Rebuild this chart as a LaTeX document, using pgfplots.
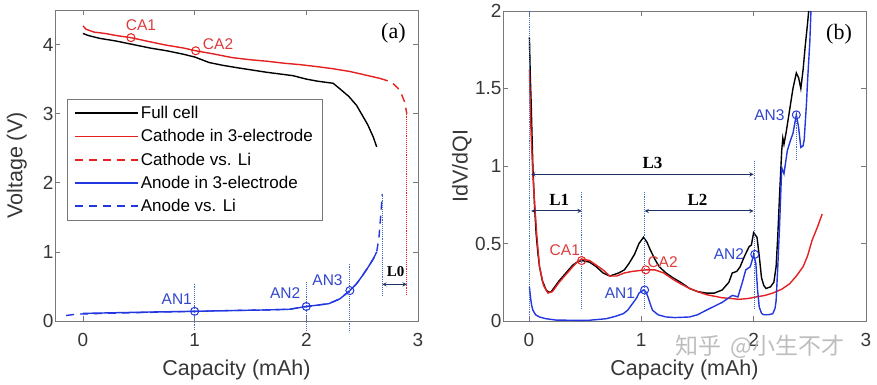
\documentclass[border=0pt]{standalone}
\usepackage{pgfplots}
\pgfplotsset{compat=1.18}
\usepackage{fontspec}
\setmainfont{Liberation Sans}
\newfontfamily\serif{Liberation Serif}
\newfontfamily\cjk{Noto Sans CJK SC}
\definecolor{mred}{RGB}{228,32,32}
\definecolor{mblue}{RGB}{35,55,225}
\definecolor{tred}{RGB}{220,60,60}
\definecolor{tblue}{RGB}{50,70,205}
\definecolor{dblue}{RGB}{70,110,190}
\definecolor{navy}{RGB}{30,50,100}
\definecolor{axgray}{RGB}{120,120,120}
\definecolor{txtgray}{RGB}{55,55,55}
\pgfplotsset{
  mystyle/.style={
    scale only axis, clip=false,
    axis line style={axgray, line width=0.8pt},
    tick style={axgray, line width=0.6pt},
    major tick length=5pt,
    tick align=inside, tick pos=both,
    /pgf/number format/assume math mode=true,
    ticklabel style={font=\fontsize{19}{22}\selectfont, text=txtgray},
    xticklabel style={yshift=-9pt},
    yticklabel style={xshift=2pt},
    label style={font=\fontsize{21.5}{25}\selectfont, text=txtgray},
    xlabel style={at={(axis description cs:0.5,-0.158)}, anchor=center},
  }
}
\begin{document}
\begin{tikzpicture}
\path[use as bounding box] (0,0) rectangle (877pt,385pt);
% ---------------- (a)
\begin{axis}[mystyle,
  at={(55pt,64pt)}, anchor=south west,
  width=363pt, height=311pt,
  xmin=-0.25, xmax=3, ymin=0, ymax=4.5,
  xtick={0,1,2,3}, ytick={0,1,2,3,4},
  xlabel={Capacity (mAh)}, ylabel={Voltage (V)},
  ylabel style={at={(axis description cs:-0.105,0.5)}, anchor=center},
  legend cell align=left,
  legend style={at={(0.033,0.714)}, anchor=north west, draw=axgray,
    font=\fontsize{17}{20}\selectfont, row sep=5.5pt, inner xsep=7pt, inner ysep=5pt},
  legend image code/.code={\draw[#1, line width=1.7pt] (0pt,0pt) -- (63pt,0pt);},
]
\addplot[black, line width=1.4pt] coordinates {
(0,4.16) (0.05,4.13) (0.15,4.09) (0.3,4.05) (0.45,4.0) (0.6,3.95) (0.75,3.91) (0.9,3.86) (1.0,3.82) (1.13,3.74) (1.25,3.70) (1.4,3.66) (1.64,3.60) (1.88,3.55) (2.0,3.50) (2.1,3.47) (2.24,3.44) (2.3,3.36) (2.38,3.25) (2.45,3.12) (2.5,2.98) (2.55,2.84) (2.6,2.66) (2.63,2.52)};
\addlegendentry{Full cell}
\addplot[mred, line width=1.4pt] coordinates {
(0,4.27) (0.03,4.22) (0.1,4.18) (0.2,4.16) (0.3,4.13) (0.43,4.10) (0.6,4.04) (0.75,3.99) (0.9,3.95) (1.01,3.91) (1.15,3.87) (1.34,3.81) (1.5,3.78) (1.64,3.76) (1.8,3.73) (1.94,3.71) (2.1,3.68) (2.24,3.65) (2.39,3.61) (2.5,3.57) (2.58,3.54) (2.66,3.51)};
\addlegendentry{Cathode in 3-electrode}
\addplot[mred, line width=1.4pt, dash pattern=on 8pt off 6pt] coordinates {
(2.66,3.51) (2.72,3.48) (2.78,3.43) (2.82,3.37) (2.85,3.29) (2.88,3.17) (2.9,3.0)};
\addlegendentry{Cathode vs. Li}
\addplot[mblue, line width=1.4pt] coordinates {
(0,0.11) (0.3,0.12) (0.6,0.13) (1.0,0.14) (1.3,0.15) (1.64,0.16) (1.85,0.17) (2.0,0.21) (2.1,0.23) (2.2,0.25) (2.3,0.32) (2.39,0.44) (2.45,0.54) (2.5,0.65) (2.55,0.77) (2.6,0.9) (2.63,1.0)};
\addlegendentry{Anode in 3-electrode}
\addplot[mblue, line width=1.4pt, dash pattern=on 8pt off 6pt] coordinates {
(-0.15,0.08) (-0.05,0.10) (0.3,0.115) (0.6,0.125) (1.0,0.14) (1.3,0.15) (1.64,0.16) (1.85,0.17) (2.0,0.21) (2.1,0.23) (2.2,0.25) (2.3,0.32) (2.39,0.44) (2.45,0.54) (2.5,0.65) (2.55,0.77) (2.6,0.9) (2.63,1.0) (2.65,1.2) (2.66,1.4) (2.67,1.6) (2.68,1.84)};
\addlegendentry{Anode vs. Li}
% dotted guide lines
\addplot[forget plot, mred, densely dotted, line width=0.9pt] coordinates {(2.9,3.0) (2.9,0.37)};
\addplot[forget plot, dblue, densely dotted, line width=0.9pt] coordinates {(2.68,1.84) (2.68,0.37)};
\addplot[forget plot, dblue, densely dotted, line width=0.9pt] coordinates {(1.0,0.54) (1.0,-0.13)};
\addplot[forget plot, dblue, densely dotted, line width=0.9pt] coordinates {(2.0,0.56) (2.0,-0.13)};
\addplot[forget plot, dblue, densely dotted, line width=0.9pt] coordinates {(2.39,0.83) (2.39,-0.16)};
\addplot[forget plot, navy, line width=0.9pt, <->, >=stealth] coordinates {(2.68,0.53) (2.9,0.53)};
% markers
\addplot[forget plot, only marks, mark=o, mark size=4pt, mark options={mred, line width=1pt}] coordinates {(0.43,4.10) (1.01,3.91)};
\addplot[forget plot, only marks, mark=o, mark size=4pt, mark options={mblue, line width=1pt}] coordinates {(1.0,0.14) (2.0,0.21) (2.39,0.44)};
% labels
\node[text=tred, font=\fontsize{15.5}{18}\selectfont] at (axis cs:0.52,4.28) {CA1};
\node[text=tred, font=\fontsize{15.5}{18}\selectfont] at (axis cs:1.21,4.01) {CA2};
\node[text=tblue, font=\fontsize{15.5}{18}\selectfont] at (axis cs:0.84,0.31) {AN1};
\node[text=tblue, font=\fontsize{15.5}{18}\selectfont] at (axis cs:1.81,0.40) {AN2};
\node[text=tblue, font=\fontsize{15.5}{18}\selectfont] at (axis cs:2.19,0.59) {AN3};
\node[font=\serif\bfseries\fontsize{15}{18}\selectfont] at (axis cs:2.80,0.72) {L0};
\node[font=\serif\fontsize{22}{24}\selectfont] at (axis cs:2.78,4.16) {(a)};
\end{axis}
% ---------------- (b)
\begin{axis}[mystyle,
  at={(503pt,64pt)}, anchor=south west,
  width=363pt, height=310pt,
  xmin=-0.23, xmax=3, ymin=0, ymax=2,
  xtick={0,1,2,3}, ytick={0,0.5,1,1.5,2},
  yticklabels={0,0.5,1,1.5,2},
  xlabel={Capacity (mAh)}, ylabel={IdV/dQI},
  ylabel style={at={(axis description cs:-0.113,0.5)}, anchor=center},
]
\addplot[black, line width=1.4pt] coordinates {
(0.005,1.83) (0.012,1.6) (0.02,1.42) (0.03,1.15) (0.036,0.99) (0.05,0.75) (0.065,0.56) (0.08,0.44) (0.095,0.35) (0.12,0.26) (0.154,0.20) (0.18,0.185) (0.2,0.19) (0.23,0.22) (0.27,0.26) (0.33,0.31) (0.39,0.36) (0.43,0.38) (0.47,0.39) (0.54,0.38) (0.6,0.35) (0.66,0.31) (0.72,0.29) (0.8,0.31) (0.85,0.33) (0.89,0.37) (0.94,0.43) (0.98,0.50) (1.02,0.54) (1.05,0.51) (1.08,0.46) (1.12,0.40) (1.16,0.35) (1.22,0.31) (1.28,0.28) (1.35,0.25) (1.43,0.21) (1.5,0.19) (1.58,0.18) (1.65,0.18) (1.72,0.20) (1.78,0.25) (1.81,0.31) (1.85,0.32) (1.88,0.35) (1.92,0.42) (1.96,0.48) (1.98,0.49) (2.0,0.57) (2.03,0.54) (2.05,0.42) (2.07,0.28) (2.09,0.23) (2.11,0.21) (2.15,0.22) (2.18,0.25) (2.2,0.35) (2.215,0.55) (2.23,0.80) (2.25,1.10) (2.26,1.18) (2.27,1.14) (2.29,1.22) (2.32,1.36) (2.35,1.50) (2.38,1.60) (2.40,1.57) (2.42,1.50) (2.44,1.62) (2.46,1.78) (2.48,1.92) (2.49,2.0)};
\addplot[mred, line width=1.4pt] coordinates {
(0.005,1.62) (0.012,1.4) (0.02,1.21) (0.035,0.95) (0.05,0.78) (0.07,0.56) (0.095,0.35) (0.13,0.23) (0.17,0.18) (0.21,0.19) (0.24,0.22) (0.27,0.25) (0.33,0.30) (0.39,0.35) (0.43,0.38) (0.47,0.40) (0.54,0.39) (0.6,0.36) (0.66,0.33) (0.72,0.29) (0.78,0.29) (0.85,0.31) (0.92,0.32) (1.04,0.33) (1.12,0.33) (1.2,0.31) (1.28,0.27) (1.35,0.24) (1.43,0.21) (1.5,0.19) (1.58,0.17) (1.65,0.16) (1.72,0.15) (1.8,0.145) (1.87,0.14) (1.95,0.145) (2.02,0.155) (2.1,0.165) (2.17,0.18) (2.25,0.205) (2.32,0.24) (2.38,0.29) (2.44,0.35) (2.48,0.42) (2.52,0.52) (2.57,0.61) (2.61,0.69)};
\addplot[mblue, line width=1.4pt] coordinates {
(0.005,0.22) (0.015,0.15) (0.025,0.10) (0.036,0.07) (0.06,0.04) (0.095,0.026) (0.15,0.015) (0.24,0.006) (0.35,0.005) (0.45,0.004) (0.54,0.005) (0.62,0.01) (0.69,0.015) (0.77,0.03) (0.84,0.047) (0.88,0.07) (0.92,0.11) (0.96,0.15) (0.98,0.18) (1.02,0.20) (1.04,0.19) (1.06,0.155) (1.08,0.11) (1.1,0.07) (1.15,0.04) (1.22,0.026) (1.3,0.022) (1.43,0.026) (1.5,0.04) (1.58,0.07) (1.65,0.095) (1.72,0.12) (1.78,0.15) (1.81,0.165) (1.84,0.16) (1.86,0.155) (1.9,0.25) (1.93,0.33) (1.97,0.35) (1.99,0.40) (2.0,0.43) (2.02,0.37) (2.035,0.2) (2.05,0.09) (2.07,0.05) (2.09,0.04) (2.13,0.04) (2.17,0.047) (2.19,0.08) (2.2,0.13) (2.215,0.35) (2.23,0.6) (2.25,0.99) (2.27,0.95) (2.3,1.1) (2.33,1.17) (2.35,1.21) (2.38,1.33) (2.4,1.25) (2.42,1.12) (2.44,1.13) (2.45,1.17) (2.47,1.4) (2.48,1.55) (2.5,1.8) (2.51,2.0)};
% dotted guides
\addplot[dblue, densely dotted, line width=0.9pt] coordinates {(0.005,0) (0.005,2)};
\addplot[dblue, densely dotted, line width=0.9pt] coordinates {(0.47,0.08) (0.47,0.84)};
\addplot[dblue, densely dotted, line width=0.9pt] coordinates {(1.03,0.08) (1.03,0.84)};
\addplot[dblue, densely dotted, line width=0.9pt] coordinates {(2.01,0.08) (2.01,1.03)};
\addplot[dblue, densely dotted, line width=0.9pt] coordinates {(2.38,1.04) (2.38,1.33)};
% arrows
\addplot[navy, line width=0.9pt, <->, >=stealth] coordinates {(0.02,0.946) (2.0,0.946)};
\addplot[navy, line width=0.9pt, <->, >=stealth] coordinates {(0.02,0.71) (0.47,0.71)};
\addplot[navy, line width=0.9pt, <->, >=stealth] coordinates {(1.03,0.71) (2.0,0.71)};
% markers
\addplot[only marks, mark=o, mark size=4pt, mark options={mred, line width=1pt}] coordinates {(0.47,0.39) (1.04,0.33)};
\addplot[only marks, mark=o, mark size=4pt, mark options={mblue, line width=1pt}] coordinates {(1.03,0.20) (2.01,0.43) (2.38,1.33)};
% labels
\node[text=tred, font=\fontsize{15.5}{18}\selectfont] at (axis cs:0.32,0.46) {CA1};
\node[text=tred, font=\fontsize{15.5}{18}\selectfont] at (axis cs:1.19,0.38) {CA2};
\node[text=tblue, font=\fontsize{15.5}{18}\selectfont] at (axis cs:0.81,0.18) {AN1};
\node[text=tblue, font=\fontsize{15.5}{18}\selectfont] at (axis cs:1.78,0.43) {AN2};
\node[text=tblue, font=\fontsize{15.5}{18}\selectfont] at (axis cs:2.14,1.33) {AN3};
\node[font=\serif\bfseries\fontsize{17}{20}\selectfont] at (axis cs:1.10,1.02) {L3};
\node[font=\serif\bfseries\fontsize{17}{20}\selectfont] at (axis cs:0.27,0.78) {L1};
\node[font=\serif\bfseries\fontsize{17}{20}\selectfont] at (axis cs:1.50,0.78) {L2};
\node[font=\serif\fontsize{22}{24}\selectfont] at (axis cs:2.76,1.85) {(b)};
\end{axis}
\node[text=black!30, font=\cjk\fontsize{23}{26}\selectfont, opacity=0.85] at (760pt,38pt) {知乎\, @小生不才};
\end{tikzpicture}
\end{document}
